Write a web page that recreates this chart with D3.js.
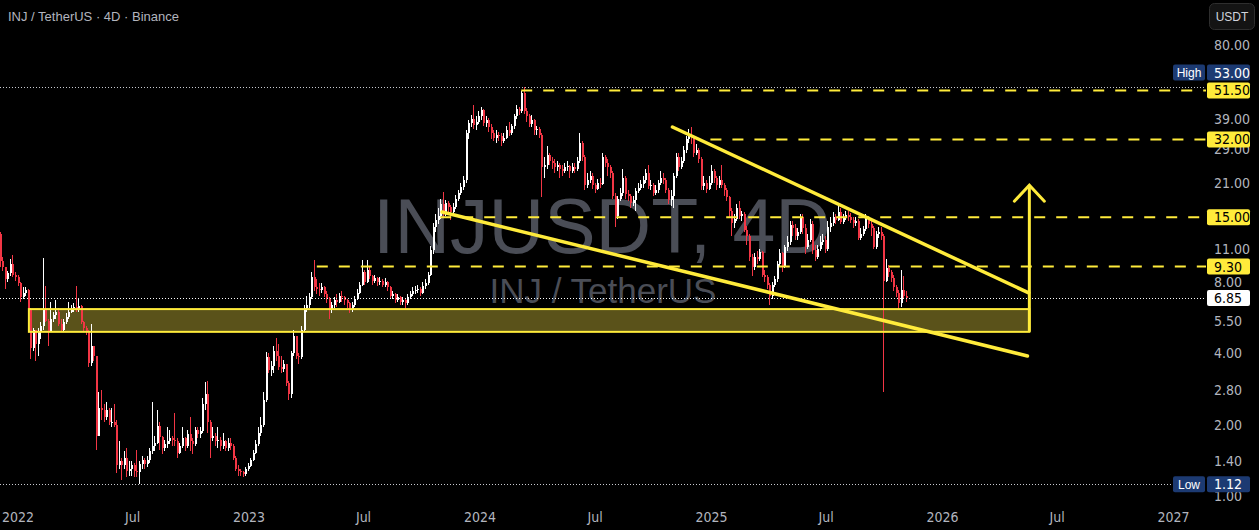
<!DOCTYPE html>
<html>
<head>
<meta charset="utf-8">
<script src="https://cdn.jsdelivr.net/npm/d3@7"></script>
<style>
body { margin: 0; background: #000; }
svg { display: block; }
.axis text { fill: #b2b5be; font-family: "Liberation Sans Narrow", "DejaVu Sans Condensed", "Roboto Condensed", sans-serif; font-size: 14px; }
</style>
</head>
<body>
<div id="holder"></div>
<script>
// 4D candles, first one starts 2021-12-04, open of each = previous close
const startDate = "2021-12-04";
const firstOpen = 12.8;
const closes = [
  9.8, 9.3, 8.2, 8.7, 9.5, 8.6, 8.4, 7.9, 6.9, 7.2,
  7.4, 6.1, 4.2, 5.0, 4.4, 4.9, 5.2, 6.1, 5.5, 4.95,
  5.6, 5.8, 6.0, 5.3, 5.0, 5.4, 5.7, 6.0, 6.2, 6.3,
  6.1, 6.35, 5.4, 5.1, 4.9, 3.65, 4.3, 3.9, 1.8, 2.35,
  2.3, 2.15, 2.3, 2.05, 2.05, 2.0, 1.35, 1.4, 1.35, 1.45,
  1.28, 1.3, 1.35, 1.28, 1.26, 1.36, 1.42, 1.36, 1.42, 1.55,
  1.62, 1.68, 1.98, 1.78, 1.6, 1.65, 1.7, 1.75, 1.72, 1.7,
  1.52, 1.62, 1.75, 1.62, 1.82, 1.7, 1.65, 1.9, 1.82, 1.88,
  2.45, 2.7, 2.05, 1.75, 1.8, 1.7, 1.72, 1.62, 1.7, 1.6,
  1.68, 1.62, 1.45, 1.3, 1.28, 1.26, 1.24, 1.3, 1.34, 1.42,
  1.52, 1.65, 1.85, 2.0, 2.55, 3.85, 3.4, 3.55, 4.1, 3.9,
  3.5, 3.45, 3.6, 3.0, 2.7, 4.0, 4.75, 3.9, 3.85, 5.0,
  6.2, 6.4, 6.9, 8.4, 7.6, 7.5, 7.4, 7.6, 7.1, 6.8,
  6.1, 6.4, 6.7, 6.6, 7.0, 6.9, 6.7, 6.5, 6.1, 6.4,
  6.8, 7.2, 7.8, 8.8, 8.0, 9.0, 8.5, 8.1, 8.3, 8.0,
  8.1, 7.8, 8.0, 7.6, 7.0, 7.1, 6.75, 6.9, 6.6, 6.7,
  6.5, 6.9, 7.1, 7.3, 7.4, 7.5, 7.2, 7.7, 7.9, 8.6,
  10.9, 13.6, 14.6, 15.2, 17.0, 15.6, 17.3, 16.6, 15.8, 16.6,
  18.0, 19.0, 20.2, 21.6, 34.0, 37.6, 38.9, 36.7, 38.0, 40.0,
  42.6, 37.6, 38.5, 36.0, 34.0, 32.5, 33.5, 33.0, 31.5, 32.5,
  35.0, 34.0, 36.5, 40.0, 43.0, 42.0, 50.0, 42.0, 40.0, 37.0,
  38.5, 35.0, 35.5, 33.5, 24.5, 25.0, 27.5, 26.0, 25.5, 24.5,
  25.0, 24.0, 23.5, 24.5, 24.8, 23.5, 24.5, 24.0, 26.0, 31.0,
  27.0, 20.5, 21.5, 22.5, 20.5, 19.8, 21.0, 20.8, 27.0, 25.5,
  24.5, 23.0, 18.5, 15.2, 18.0, 19.0, 22.0, 18.8, 18.5, 17.3,
  17.8, 19.3, 20.0, 20.8, 21.5, 23.0, 20.3, 20.5, 19.0, 19.6,
  21.0, 22.0, 21.5, 19.5, 17.8, 18.5, 22.5, 27.0, 24.5, 26.0,
  29.0, 32.0, 33.5, 32.5, 28.0, 29.0, 26.5, 20.3, 21.0, 19.8,
  21.0, 23.5, 22.0, 20.5, 21.5, 20.5, 19.5, 18.3, 16.0, 14.2,
  14.8, 16.5, 15.2, 15.5, 13.3, 12.5, 10.2, 9.3, 10.2, 10.0,
  10.7, 8.6, 8.4, 7.8, 7.0, 7.8, 8.2, 9.5, 10.6, 9.3,
  11.2, 11.8, 13.9, 13.5, 12.5, 13.0, 15.0, 13.5, 11.2, 12.0,
  14.0, 10.9, 10.2, 11.0, 11.8, 12.0, 11.0, 13.7, 14.2, 15.0,
  14.6, 15.8, 14.3, 15.0, 15.3, 15.0, 14.6, 14.2, 14.5, 12.3,
  12.8, 13.4, 14.8, 14.0, 13.5, 11.2, 12.8, 13.0, 12.5, 8.1,
  9.2, 8.8, 8.3, 7.6, 7.2, 6.5, 7.4, 7.0, 6.85
];
const highs = [
  13.0, 10.2, 9.0, 8.9, 10.0, 10.4, 8.8, 8.6, 8.0, 7.6,
  7.6, 7.5, 6.2, 5.1, 4.7, 5.1, 5.4, 10.1, 7.7, 5.6,
  6.6, 6.0, 6.7, 6.2, 5.6, 5.6, 5.9, 6.6, 6.4, 6.5,
  7.7, 6.8, 6.4, 5.5, 5.2, 5.0, 5.3, 4.3, 3.9, 2.75,
  2.8, 2.45, 2.5, 2.35, 2.35, 2.45, 2.1, 1.7, 1.45, 1.55,
  1.6, 1.4, 1.4, 1.38, 1.56, 1.4, 1.48, 1.45, 1.48, 1.6,
  2.5, 1.8, 2.3, 2.05, 1.8, 1.72, 1.95, 1.9, 1.8, 2.25,
  1.75, 1.68, 1.95, 1.78, 1.9, 2.15, 1.75, 1.95, 1.95, 1.95,
  2.6, 3.03, 3.05, 2.1, 1.95, 1.85, 1.95, 1.78, 1.85, 1.72,
  1.75, 1.75, 1.65, 1.48, 1.35, 1.3, 1.28, 1.33, 1.38, 1.45,
  1.56, 1.72, 1.95, 2.15, 2.75, 4.05, 4.0, 3.7, 4.3, 4.65,
  4.4, 3.9, 3.75, 3.6, 3.05, 4.1, 5.0, 4.4, 4.0, 5.2,
  6.4, 7.0, 7.2, 8.8, 9.9, 8.2, 7.9, 7.9, 7.7, 7.3,
  6.9, 6.6, 6.9, 7.1, 7.2, 7.3, 7.0, 6.8, 6.6, 6.6,
  7.0, 7.5, 8.0, 9.9, 9.0, 9.9, 9.3, 8.6, 8.6, 8.4,
  8.4, 8.2, 8.3, 8.1, 7.7, 7.3, 7.2, 7.1, 7.0, 6.9,
  6.8, 7.1, 7.3, 7.6, 7.7, 7.8, 7.6, 8.0, 8.2, 8.8,
  11.3, 14.2, 15.5, 16.5, 18.0, 19.2, 17.8, 17.6, 16.9, 17.2,
  18.6, 19.6, 21.0, 22.5, 35.0, 38.5, 40.5, 44.7, 40.0, 42.0,
  44.0, 43.0, 40.0, 39.5, 37.0, 35.0, 35.0, 34.5, 34.0, 34.0,
  36.5, 38.0, 37.0, 41.0, 44.5, 44.0, 51.0, 53.0, 43.5, 41.0,
  40.5, 39.0, 36.5, 36.0, 34.0, 27.0, 30.0, 28.0, 27.0, 26.5,
  26.0, 25.5, 25.0, 25.5, 26.0, 25.0, 25.5, 25.5, 27.0, 34.0,
  31.5, 27.5, 23.0, 23.5, 23.0, 21.0, 21.8, 22.0, 28.0, 27.5,
  26.5, 25.0, 23.5, 19.0, 18.5, 20.0, 24.0, 22.5, 19.5, 18.8,
  18.5, 20.0, 21.0, 21.5, 22.5, 24.0, 25.0, 21.5, 21.0, 20.5,
  21.5, 23.5, 23.0, 22.0, 20.0, 19.5, 23.0, 28.0, 28.0, 27.0,
  30.0, 33.0, 35.5, 36.0, 33.0, 30.5, 29.5, 27.0, 22.5, 21.5,
  22.5, 25.0, 24.0, 22.5, 22.5, 25.0, 21.0, 20.0, 18.5, 16.5,
  15.5, 17.0, 17.5, 16.0, 15.8, 13.8, 12.8, 10.5, 10.6, 10.8,
  11.0, 10.8, 9.0, 8.6, 7.9, 8.0, 8.5, 9.8, 11.0, 10.7,
  11.5, 12.5, 14.5, 14.5, 14.0, 13.5, 15.5, 15.5, 14.0, 12.8,
  14.8, 14.5, 11.5, 11.5, 12.5, 12.8, 12.5, 14.5, 15.0, 15.8,
  15.5, 17.0, 16.5, 15.5, 16.0, 16.0, 15.6, 15.0, 15.0, 14.8,
  13.5, 13.8, 15.5, 15.0, 14.5, 13.8, 13.2, 13.6, 13.6, 12.8,
  10.0, 9.4, 9.0, 8.6, 7.8, 7.4, 9.0, 8.5, 7.3
];
const lows = [
  9.3, 8.9, 7.5, 8.0, 8.5, 8.4, 8.1, 7.7, 6.6, 6.8,
  7.0, 6.0, 3.8, 4.1, 3.7, 3.9, 4.6, 5.0, 5.4, 4.3,
  4.9, 5.4, 5.6, 5.2, 4.9, 4.9, 5.3, 5.6, 5.9, 6.0,
  6.0, 6.0, 5.3, 4.9, 4.8, 3.5, 3.55, 3.7, 1.56, 1.8,
  2.1, 2.05, 2.1, 2.0, 1.95, 1.95, 1.25, 1.3, 1.17, 1.3,
  1.2, 1.22, 1.22, 1.2, 1.2, 1.12, 1.3, 1.3, 1.32, 1.38,
  1.5, 1.55, 1.65, 1.56, 1.5, 1.55, 1.6, 1.65, 1.62, 1.62,
  1.45, 1.5, 1.6, 1.55, 1.6, 1.55, 1.5, 1.62, 1.75, 1.75,
  1.85, 2.3, 1.85, 1.45, 1.7, 1.62, 1.6, 1.55, 1.58, 1.55,
  1.55, 1.56, 1.42, 1.28, 1.22, 1.22, 1.2, 1.22, 1.28, 1.32,
  1.4, 1.5, 1.62, 1.8, 1.95, 2.5, 3.3, 3.2, 3.3, 3.7,
  3.4, 3.3, 3.35, 2.9, 2.55, 2.6, 3.9, 3.8, 3.6, 3.8,
  4.9, 6.0, 6.2, 6.8, 7.3, 7.1, 7.0, 7.2, 6.9, 6.5,
  5.6, 5.9, 6.2, 6.3, 6.5, 6.6, 6.4, 6.2, 5.9, 6.0,
  6.3, 6.7, 7.1, 7.7, 7.8, 7.9, 8.2, 7.8, 7.9, 7.7,
  7.8, 7.6, 7.6, 7.3, 6.8, 6.8, 6.5, 6.6, 6.4, 6.4,
  6.1, 6.4, 6.8, 7.0, 7.1, 7.2, 7.0, 7.1, 7.5, 7.8,
  8.5, 10.5, 13.0, 14.0, 14.8, 15.0, 15.2, 15.6, 14.6, 15.3,
  16.2, 17.5, 18.6, 19.6, 21.0, 32.0, 36.0, 35.5, 35.0, 37.0,
  38.5, 36.5, 36.0, 34.5, 32.0, 31.5, 31.0, 31.5, 30.0, 31.0,
  32.0, 33.0, 33.5, 35.5, 39.0, 40.5, 41.5, 41.0, 38.0, 36.0,
  36.0, 33.5, 33.5, 32.5, 18.3, 22.0, 24.0, 25.0, 24.0, 23.0,
  23.5, 22.0, 22.5, 23.0, 23.5, 22.0, 23.0, 23.0, 23.5, 25.5,
  26.0, 19.5, 20.0, 21.0, 19.8, 19.0, 19.5, 20.0, 20.5, 24.5,
  22.5, 22.0, 18.0, 13.7, 14.8, 17.5, 18.5, 18.0, 17.5, 16.5,
  16.8, 16.0, 19.0, 19.6, 20.0, 21.0, 19.8, 19.5, 18.5, 18.6,
  19.0, 20.5, 20.8, 19.0, 17.0, 16.8, 16.5, 22.0, 23.5, 24.0,
  25.5, 28.0, 31.0, 30.5, 27.0, 27.5, 25.5, 19.5, 19.5, 19.0,
  19.5, 20.5, 21.0, 19.5, 20.0, 20.0, 18.5, 17.5, 15.0, 12.5,
  13.5, 14.5, 14.8, 14.5, 13.0, 11.5, 9.8, 8.5, 9.0, 9.5,
  9.8, 8.4, 8.0, 7.5, 6.4, 6.8, 7.6, 8.0, 9.3, 8.8,
  9.2, 10.8, 11.5, 12.5, 12.0, 12.0, 12.8, 12.8, 10.5, 11.0,
  11.8, 10.5, 9.8, 10.0, 10.8, 11.5, 10.6, 10.8, 13.0, 13.8,
  14.0, 14.5, 14.0, 14.0, 14.6, 14.5, 14.2, 13.5, 13.8, 12.0,
  12.0, 12.5, 13.2, 13.5, 12.5, 11.0, 11.0, 12.3, 12.0, 2.75,
  8.0, 8.4, 8.0, 7.3, 6.9, 6.1, 6.3, 6.8, 6.6
];

const priceTicks = [80, 39, 29, 21, 11, 8, 5.5, 4, 2.8, 2, 1.4, 1];
const timeTickDates = ["2022-01-01", "2022-07-01", "2023-01-01", "2023-07-01", "2024-01-01", "2024-07-01",
  "2025-01-01", "2025-07-01", "2026-01-01", "2026-07-01", "2027-01-01"];
const timeTickLabels = ["2022", "Jul", "2023", "Jul", "2024", "Jul", "2025", "Jul", "2026", "Jul", "2027"];

// horizontal levels (yellow dashed) and where they start
const levelPrices = [51.5, 32, 15, 9.3];
const levelStarts = ["2024-03-07", "2024-12-31", "2023-10-31", "2023-04-19"];
const highPrice = 53.0;
const lowPrice = 1.12;
const lastPrice = 6.85;

// drawings
const upperTrend = [["2024-11-01", 36.1], ["2026-05-18", 7.2]];
const lowerTrend = [["2023-11-03", 15.8], ["2026-05-16", 3.9]];
const zoneDates = ["2022-01-19", "2026-05-19"];
const zonePrices = [4.93, 6.15];
const arrowPrices = [4.93, 20.5];

const w = 1259, h = 530;
const plotRight = 1206;
const yellow = "#ffeb3b";
const upColor = "#ffffff", downColor = "#f23645";
const parse = d3.utcParse("%Y-%m-%d");

const xScale = d3.scaleUtc()
  .domain([parse("2022-01-01"), parse("2027-01-01")])
  .range([17.5, 1173]);
const yScale = d3.scaleLog()
  .domain([1, 80])
  .range([496, 45.1]);

const t0 = parse(startDate);
const candles = closes.map((c, i) => {
  const o = i === 0 ? firstOpen : closes[i - 1];
  return {
    date: d3.utcDay.offset(t0, 4 * i),
    o: o, c: c,
    h: Math.max(highs[i], o, c),
    l: Math.min(lows[i], o, c)
  };
});

const svg = d3.select("#holder").append("svg")
  .attr("width", w).attr("height", h)
  .style("background", "#000");

// watermark
svg.append("text")
  .attr("x", 602).attr("y", 253)
  .attr("text-anchor", "middle")
  .attr("font-family", "'Liberation Sans', Arial, sans-serif")
  .attr("font-size", 77)
  .attr("fill", "#4a4d56")
  .text("INJUSDT, 4D");
svg.append("text")
  .attr("x", 603).attr("y", 303)
  .attr("text-anchor", "middle")
  .attr("font-family", "'Liberation Sans', Arial, sans-serif")
  .attr("font-size", 35)
  .attr("fill", "#4a4d56")
  .text("INJ / TetherUS");

// zone fill
const zx0 = xScale(parse(zoneDates[0])), zx1 = xScale(parse(zoneDates[1]));
const zyTop = yScale(zonePrices[1]), zyBot = yScale(zonePrices[0]);
svg.append("rect")
  .attr("x", zx0).attr("y", zyTop)
  .attr("width", zx1 - zx0).attr("height", zyBot - zyTop)
  .attr("fill", "#5a521a");

// candles
const cg = svg.append("g").attr("shape-rendering", "crispEdges");
const cx = d => Math.round(xScale(d.date));
cg.selectAll("line.wick")
  .data(candles)
  .enter()
  .append("line")
  .attr("class", "wick")
  .attr("x1", d => cx(d) + 0.5).attr("x2", d => cx(d) + 0.5)
  .attr("y1", d => yScale(d.h)).attr("y2", d => yScale(d.l))
  .attr("stroke", d => d.c >= d.o ? upColor : downColor)
  .attr("stroke-width", 1);
cg.selectAll("rect.body")
  .data(candles)
  .enter()
  .append("rect")
  .attr("class", "body")
  .attr("x", d => cx(d) - 0.5)
  .attr("width", 2)
  .attr("y", d => yScale(Math.max(d.o, d.c)))
  .attr("height", d => Math.max(1, Math.abs(yScale(d.o) - yScale(d.c))))
  .attr("fill", d => d.c >= d.o ? upColor : downColor);

// dotted lines: high, low, last
[[highPrice, 0, plotRight, "#c8cad0"], [lowPrice, 0, 1173, "#c8cad0"], [lastPrice, 0, plotRight, "#ffffff"]].forEach(l => {
  svg.append("line")
    .attr("x1", l[1]).attr("x2", l[2])
    .attr("y1", Math.round(yScale(l[0])) + 0.5).attr("y2", Math.round(yScale(l[0])) + 0.5)
    .attr("stroke", l[3]).attr("stroke-width", 1)
    .attr("stroke-dasharray", "1,2");
});

// yellow dashed levels
levelPrices.forEach((p, i) => {
  svg.append("line")
    .attr("x1", xScale(parse(levelStarts[i]))).attr("x2", plotRight)
    .attr("y1", yScale(p)).attr("y2", yScale(p))
    .attr("stroke", yellow).attr("stroke-width", 2)
    .attr("stroke-dasharray", "11,11");
});

// zone borders
svg.append("rect")
  .attr("x", zx0).attr("y", zyTop)
  .attr("width", zx1 - zx0).attr("height", zyBot - zyTop)
  .attr("fill", "none")
  .attr("stroke", yellow).attr("stroke-width", 2);

// wedge lines
const trendLine = d3.line()
  .x(d => xScale(parse(d[0])))
  .y(d => yScale(d[1]));
[upperTrend, lowerTrend].forEach(t => {
  svg.append("path")
    .attr("d", trendLine(t))
    .attr("fill", "none")
    .attr("stroke", yellow).attr("stroke-width", 3.5)
    .attr("stroke-linecap", "round");
});

// target arrow
const ax = xScale(parse(zoneDates[1]));
const ayTop = yScale(arrowPrices[1]);
svg.append("line")
  .attr("x1", ax).attr("x2", ax)
  .attr("y1", yScale(arrowPrices[0])).attr("y2", ayTop)
  .attr("stroke", yellow).attr("stroke-width", 3);
svg.append("path")
  .attr("d", "M" + (ax - 15) + "," + (ayTop + 16) + "L" + ax + "," + ayTop + "L" + (ax + 15) + "," + (ayTop + 16))
  .attr("fill", "none")
  .attr("stroke", yellow).attr("stroke-width", 3)
  .attr("stroke-linecap", "round").attr("stroke-linejoin", "miter");

// axes
const yAxis = d3.axisRight(yScale)
  .tickValues(priceTicks)
  .tickFormat(d3.format(".2f"))
  .tickSize(0).tickPadding(0);
svg.append("g")
  .attr("class", "axis")
  .attr("transform", "translate(1214,0)")
  .call(yAxis)
  .call(g => g.select(".domain").remove());

const xAxis = d3.axisBottom(xScale)
  .tickValues(timeTickDates.map(parse))
  .tickFormat((d, i) => timeTickLabels[i])
  .tickSize(0).tickPadding(0);
svg.append("g")
  .attr("class", "axis")
  .attr("transform", "translate(0,512)")
  .call(xAxis)
  .call(g => g.select(".domain").remove());

// price labels on the right
function priceLabel(y, txt, fill, color) {
  svg.append("rect")
    .attr("x", 1207).attr("y", y - 8)
    .attr("width", 43).attr("height", 16)
    .attr("rx", 2)
    .attr("fill", fill);
  svg.append("text")
    .attr("class", "axis")
    .attr("x", 1214).attr("y", y)
    .attr("dy", "0.36em")
    .attr("font-family", "'Liberation Sans Narrow', 'DejaVu Sans Condensed', sans-serif")
    .attr("font-size", 14)
    .attr("fill", color)
    .text(txt);
}
levelPrices.forEach(p => priceLabel(yScale(p), d3.format(".2f")(p), yellow, "#000"));
priceLabel(yScale(lastPrice), d3.format(".2f")(lastPrice), "#ffffff", "#000");
function hiLoLabel(y, name, p) {
  svg.append("rect")
    .attr("x", 1173).attr("y", y - 8)
    .attr("width", 32).attr("height", 16)
    .attr("rx", 2)
    .attr("fill", "#1c3a72");
  svg.append("text")
    .attr("x", 1189).attr("y", y)
    .attr("dy", "0.36em")
    .attr("text-anchor", "middle")
    .attr("font-family", "'Liberation Sans', Arial, sans-serif")
    .attr("font-size", 12)
    .attr("fill", "#ffffff")
    .text(name);
  priceLabel(y, d3.format(".2f")(p), "#1c3a72", "#ffffff");
}
hiLoLabel(72.5, "High", highPrice);
hiLoLabel(yScale(lowPrice), "Low", lowPrice);

// currency button
svg.append("rect")
  .attr("x", 1209.5).attr("y", 3.5)
  .attr("width", 45).attr("height", 26)
  .attr("rx", 5)
  .attr("fill", "#141414")
  .attr("stroke", "#2e2e2e");
svg.append("text")
  .attr("x", 1232).attr("y", 17)
  .attr("dy", "0.36em")
  .attr("text-anchor", "middle")
  .attr("font-family", "'Liberation Sans', Arial, sans-serif")
  .attr("font-size", 12)
  .attr("fill", "#d1d4dc")
  .text("USDT");

// title
svg.append("text")
  .attr("x", 8).attr("y", 21)
  .attr("font-family", "'Liberation Sans', Arial, sans-serif")
  .attr("font-size", 13)
  .attr("fill", "#b2b5be")
  .text("INJ / TetherUS · 4D · Binance");
</script>
</body>
</html>
